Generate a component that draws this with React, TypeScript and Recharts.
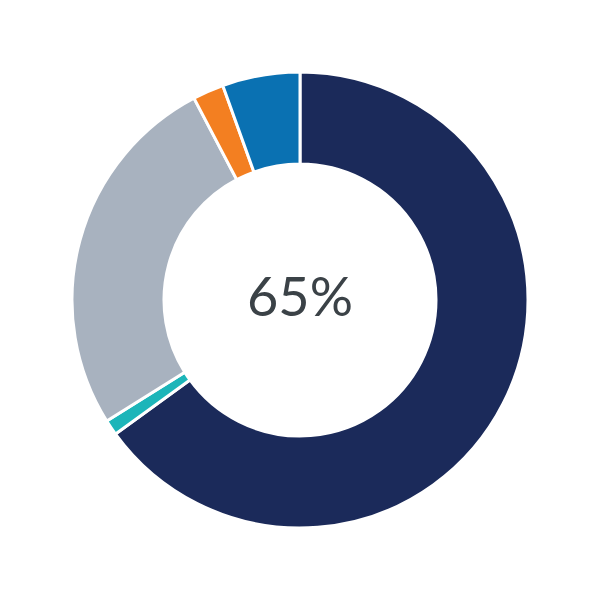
import { Cell, Label, Pie, PieChart } from "recharts";

const categories = ["Navy", "Teal", "Gray", "Orange", "Blue"];
const shares = [65, 1.1, 26.2, 2.2, 5.5];
const colors = ["#1b2a5a", "#1cb5b9", "#a8b2bf", "#f37f21", "#0a71b2"];
const centerLabel = "65%";

const data = categories.map((name, i) => ({ name, value: shares[i] }));

export default function App() {
  return (
    <div style={{ position: "absolute", left: 0, top: 0, width: 600, height: 600, background: "#fff" }}>
      <PieChart width={600} height={600} margin={{ top: 0, right: 0, bottom: 0, left: 0 }}>
        <Pie
          data={data}
          dataKey="value"
          nameKey="name"
          cx={300}
          cy={300}
          innerRadius={136}
          outerRadius={228}
          startAngle={90}
          endAngle={-270}
          stroke="#ffffff"
          strokeWidth={3}
          isAnimationActive={false}
        >
          {data.map((d, i) => (
            <Cell key={d.name} fill={colors[i]} />
          ))}
          <Label
            value={centerLabel}
            position="center"
            fill="#3b4247"
            dy={-3}
            style={{ fontFamily: "Lato, sans-serif", fontSize: 54, fontWeight: 400 }}
          />
        </Pie>
      </PieChart>
    </div>
  );
}
